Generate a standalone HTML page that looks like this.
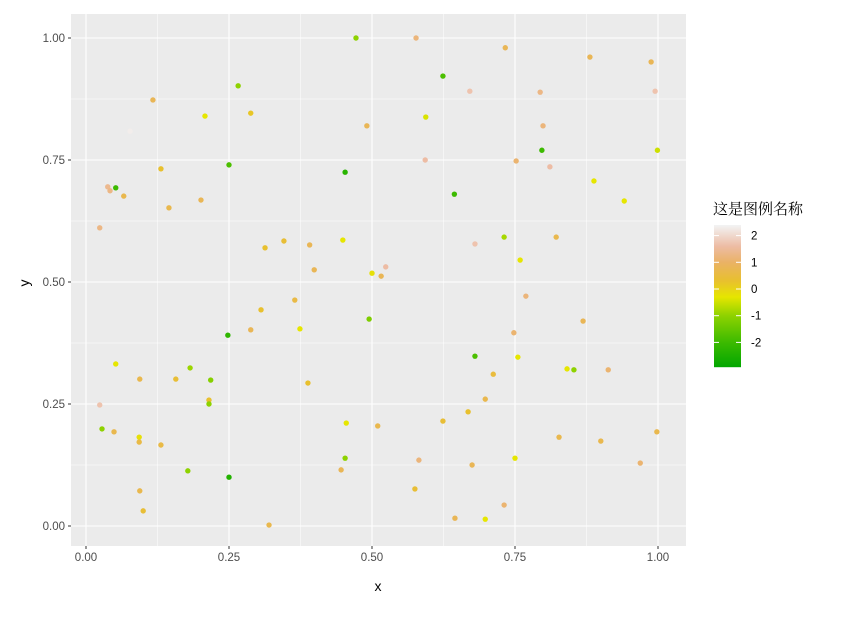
<!DOCTYPE html>
<html><head><meta charset="utf-8"><style>
body{margin:0;background:#fff;}
svg text{font-family:"Liberation Sans","Noto Sans CJK SC",sans-serif;}
</style></head><body>
<svg id="chart" width="851" height="616">
<rect x="71" y="14" width="615" height="532" fill="#EBEBEB"/>
<g id="grid"></g><g id="pts"></g><g id="axes"></g><g id="legend"></g>
</svg>
<script>
const xs=[.024,.038,.042,.052,.066,.077,.117,.131,.145,.201,.208,.25,.266,.288,.453,.472,.491,.577,.624,.671,.733,.593,.594,.644,.794,.799,.797,.752,.811,.881,.988,.995,.888,.941,.999,.313,.346,.391,.399,.449,.5,.516,.524,.68,.731,.759,.822,.769,.869,.748,.755,.68,.248,.306,.288,.365,.374,.495,.388,.712,.698,.841,.853,.913,.052,.094,.157,.182,.218,.215,.215,.024,.028,.049,.093,.093,.131,.178,.25,.455,.453,.446,.51,.575,.582,.624,.668,.675,.645,.698,.75,.731,.827,.9,.998,.969,.094,.1,.32];
const ys=[.611,.695,.687,.693,.676,.809,.873,.732,.652,.668,.84,.74,.902,.846,.725,1,.82,1,.922,.891,.98,.75,.838,.68,.889,.82,.77,.748,.736,.961,.951,.891,.707,.666,.77,.57,.584,.576,.525,.586,.518,.512,.531,.578,.592,.545,.592,.471,.42,.396,.346,.348,.391,.443,.402,.463,.404,.424,.293,.311,.26,.322,.32,.32,.332,.301,.301,.324,.299,.258,.25,.248,.199,.193,.182,.172,.166,.113,.1,.211,.139,.115,.205,.076,.135,.215,.234,.125,.016,.014,.139,.043,.182,.174,.193,.129,.072,.031,.002];
const cs=[1.3,1.4,1.3,-2,.7,2.3,.8,.3,.7,.8,-.3,-1.8,-1,.2,-2.3,-1,.8,1.2,-1.8,1.7,.8,1.6,-.4,-2,1.3,1.2,-2,1.1,1.6,.8,.8,1.7,-.3,-.3,-.5,.3,.4,.8,.8,-.3,-.2,.8,1.6,1.7,-.8,-.3,.7,1.2,.8,1.1,-.3,-1.8,-2.2,.3,.8,.6,-.3,-1.2,.3,.5,.7,-.3,-1,1.1,-.3,.7,.4,-.9,-1.1,.3,-1,1.7,-1,.7,-.2,.6,.6,-1,-2.4,-.3,-1,.8,.7,.4,1.2,.4,.3,.8,.8,-.3,-.3,1.1,.7,.7,.7,1.1,.7,.4,.7];
const xTicks=[0,.25,.5,.75,1], xLabels=["0.00","0.25","0.50","0.75","1.00"];
const yTicks=[0,.25,.5,.75,1], yLabels=["0.00","0.25","0.50","0.75","1.00"];
const legVals=[2,1,0,-1,-2];
const NS="http://www.w3.org/2000/svg";
const sx=v=>86+v*572, sy=v=>526-v*488;
const stops=[[-2.95,[0,166,0]],[-2,[60,186,0]],[-1,[142,210,0]],[-0.3,[230,230,0]],[0.3,[232,192,46]],[1,[234,178,102]],[1.6,[237,188,164]],[2.37,[242,242,242]]];
function col(v){if(v<=stops[0][0])return rgb(stops[0][1]);for(let i=1;i<stops.length;i++){if(v<=stops[i][0]){const a=stops[i-1],b=stops[i],t=(v-a[0])/(b[0]-a[0]);return rgb(a[1].map((c,k)=>c+(b[1][k]-c)*t));}}return rgb(stops[stops.length-1][1]);}
function rgb(a){return`rgb(${a.map(Math.round).join(',')})`;}
function mk(t,at,p){const e=document.createElementNS(NS,t);for(const k in at)e.setAttribute(k,at[k]);p.appendChild(e);return e;}
const grid=document.getElementById('grid');
for(let i=0;i<xTicks.length;i++){
 if(i<xTicks.length-1){const m=(xTicks[i]+xTicks[i+1])/2;
  const l1=mk('line',{x1:sx(m),x2:sx(m),y1:14,y2:546,stroke:'#fff','stroke-width':0.5},grid);
  
  const l2=mk('line',{y1:sy(m),y2:sy(m),x1:71,x2:686,stroke:'#fff','stroke-width':0.5},grid);
  }
 const a=mk('line',{x1:sx(xTicks[i]),x2:sx(xTicks[i]),y1:14,y2:546,stroke:'#fff','stroke-width':1.1},grid);
 
 const b=mk('line',{y1:sy(yTicks[i]),y2:sy(yTicks[i]),x1:71,x2:686,stroke:'#fff','stroke-width':1.1},grid);
 
}
const pts=document.getElementById('pts');
for(let i=0;i<xs.length;i++){const c=mk('circle',{cx:sx(xs[i]),cy:sy(ys[i]),r:2.7,fill:col(cs[i])},pts);
 }
const ax=document.getElementById('axes');
for(let i=0;i<xTicks.length;i++){
 mk('line',{x1:sx(xTicks[i]),x2:sx(xTicks[i]),y1:546,y2:549,stroke:'#333'},ax);
 const t=mk('text',{x:sx(xTicks[i]),y:561,'text-anchor':'middle','font-size':11.5,fill:'#4D4D4D'},ax);t.textContent=xLabels[i];
 
 mk('line',{x1:68,x2:71,y1:sy(yTicks[i]),y2:sy(yTicks[i]),stroke:'#333'},ax);
 const u=mk('text',{x:65,y:sy(yTicks[i])+4,'text-anchor':'end','font-size':11.5,fill:'#4D4D4D'},ax);u.textContent=yLabels[i];
 
}
const xt=mk('text',{x:378,y:591,'text-anchor':'middle','font-size':14,fill:'#000'},ax);xt.textContent='x';

const yt=mk('text',{x:29,y:283,'text-anchor':'middle','font-size':14,fill:'#000',transform:'rotate(-90 29 283)'},ax);yt.textContent='y';

const lg=document.getElementById('legend');
const lt=mk('text',{x:713,y:214,'font-size':15,fill:'#000',style:'font-family:"Noto Serif CJK SC",serif'},lg);lt.textContent='这是图例名称';

const ly=v=>289-v*26.7;
for(let y=225;y<367;y++){const v=(289-y-0.5)/26.7;const r=mk('rect',{x:714,y:y,width:27,height:1.2,fill:col(v)},lg);
 }
legVals.forEach(v=>{
 mk('line',{x1:714,x2:719,y1:ly(v),y2:ly(v),stroke:'#fff'},lg);mk('line',{x1:736,x2:741,y1:ly(v),y2:ly(v),stroke:'#fff'},lg);
 const t=mk('text',{x:751,y:ly(v)+4,'font-size':11.5,fill:'#000'},lg);t.textContent=String(v);
 
});
</script>
</body></html>
